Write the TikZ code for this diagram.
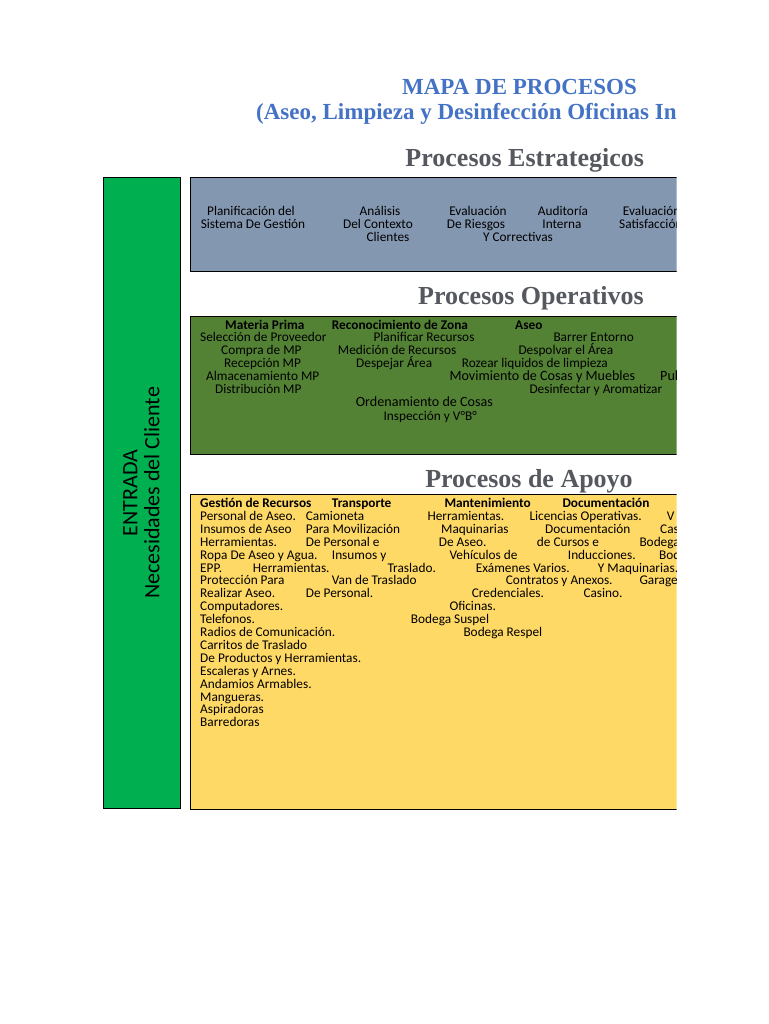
\documentclass[tikz,border=0pt]{standalone}
\usepackage{fontspec}
\setmainfont{Carlito}
\newfontfamily\headfont{Liberation Serif}
\usetikzlibrary{positioning}
\definecolor{titleblue}{RGB}{68,114,196}
\definecolor{headgray}{RGB}{85,88,94}
\definecolor{stratblue}{RGB}{132,151,176}
\definecolor{opgreen}{RGB}{84,130,53}
\definecolor{supyellow}{RGB}{255,217,102}
\definecolor{entrygreen}{RGB}{0,176,80}

\begin{document}
\begin{tikzpicture}[
        x=1pt, y=-1pt,
        font=\fontsize{13.3}{12.9}\selectfont,
        title/.style={font=\headfont\bfseries\fontsize{23}{23}\selectfont, text=titleblue, inner sep=0pt},
        heading/.style={font=\headfont\bfseries\fontsize{26}{26}\selectfont, text=headgray, inner sep=0pt, anchor=base},
        panel/.style={draw=black, line width=1.4pt, anchor=north west, inner sep=0pt},
        stratbox/.style={panel, fill=stratblue},
        opbox/.style={panel, fill=opgreen},
        supbox/.style={panel, fill=supyellow},
        entrybox/.style={draw=black, line width=0.8pt, fill=entrygreen, anchor=north west, inner sep=0pt},
        item/.style={inner sep=0pt, anchor=base},
        itemw/.style={inner sep=0pt, anchor=base west},
        itemb/.style={itemw, font=\bfseries\fontsize{13.3}{12.9}\selectfont},
        itembig/.style={itemw, font=\fontsize{14.1}{14}\selectfont},
      ]
        \useasboundingbox (0,0) rectangle (768,1024);

        \node[entrybox, minimum width=77pt, minimum height=631pt] (entrada) at (102.5,177) {};
        \node[rotate=90, align=center, inner sep=0pt, font=\fontsize{22}{22}\selectfont] (need) at (entrada.center) {ENTRADA\\Necesidades del Cliente};

        \begin{scope}
        \clip (0,0) rectangle (676.6,1024);
        \node[title, anchor=base] (map) at (519.5,95) {MAPA DE PROCESOS};
        \node[title, anchor=base west] (sub) at (256,119.3) {(Aseo, Limpieza y Desinfección Oficinas In};

        \node[heading] (hstrat) at (524.7,166.7) {Procesos Estrategicos};
        \node[stratbox, minimum width=487pt, minimum height=94pt] (strat) at (190,177) {};

        \node[item] (plan1) at (251,215.5) {Planificación del};
        \node[item] (plan2) at (253,228.4) {Sistema De Gestión};
        \node[item] (anal1) at (380,215.5) {Análisis};
        \node[item] (anal2) at (378,228.4) {Del Contexto};
        \node[item] (anal3) at (388,241.3) {Clientes};
        \node[item] (eval1) at (478,215.5) {Evaluación};
        \node[item] (eval2) at (476,228.4) {De Riesgos};
        \node[item] (eval3) at (518,241.3) {Y Correctivas};
        \node[item] (aud1) at (563,215.5) {Auditoría};
        \node[item] (aud2) at (562,228.4) {Interna};
        \node[itemw] (sat1) at (622.7,215.5) {Evaluación};
        \node[itemw] (sat2) at (619,228.4) {Satisfacción};

        \node[heading] (hop) at (531,304.5) {Procesos Operativos};
        \node[opbox, minimum width=487pt, minimum height=138pt] (oper) at (190,315.5) {};

        \node[itemb] (mp) at (225,329) {Materia Prima};
        \node[itemb] (zona) at (331.7,329) {Reconocimiento de Zona};
        \node[itemb] (aseo) at (515,329) {Aseo};
        \node[itemw] (mp1) at (200,341.8) {Selección de Proveedor};
        \node[itemw] (zona1) at (373.3,341.8) {Planificar Recursos};
        \node[itemw] (aseo1) at (553.3,341.8) {Barrer Entorno};
        \node[itemw] (mp2) at (221,354.6) {Compra de MP};
        \node[itemw] (zona2) at (337.7,354.6) {Medición de Recursos};
        \node[itemw] (aseo2) at (518.3,354.6) {Despolvar el Área};
        \node[itemw] (mp3) at (224,367.4) {Recepción MP};
        \node[itemw] (zona3) at (356,367.4) {Despejar Área};
        \node[itemw] (aseo3) at (461.7,367.4) {Rozear liquidos de limpieza};
        \node[itemw] (mp4) at (206,380.2) {Almacenamiento MP};
        \node[itembig] (aseo4) at (449.3,380.2) {Movimiento de Cosas y Muebles};
        \node[itembig] (aseo5) at (660,380.2) {Pul};
        \node[itemw] (mp5) at (215,393) {Distribución MP};
        \node[itemw] (aseo6) at (529.3,393) {Desinfectar y Aromatizar};
        \node[itembig] (orden) at (355.7,406) {Ordenamiento de Cosas};
        \node[itemw] (insp) at (383.3,420) {Inspección y V°B°};

        \node[heading] (hsup) at (529,487) {Procesos de Apoyo};
        \node[supbox, minimum width=487pt, minimum height=315pt] (apoyo) at (190,493.5) {};

        \node[itemb] (gest) at (200,507.5) {Gestión de Recursos};
        \node[itemb] (transp) at (331.7,507.5) {Transporte};
        \node[itemb] (mant) at (444.3,507.5) {Mantenimiento};
        \node[itemb] (docu) at (562.3,507.5) {Documentación};

        \node[itemw] (gest1) at (200,520.4) {Personal de Aseo.};
        \node[itemw] (transp1) at (305.7,520.4) {Camioneta};
        \node[itemw] (mant1) at (427.3,520.4) {Herramientas.};
        \node[itemw] (docu1) at (529.3,520.4) {Licencias Operativas.};
        \node[itemw] (more1) at (666.7,520.4) {V};

        \node[itemw] (gest2) at (200,533.3) {Insumos de Aseo};
        \node[itemw] (transp2) at (305.7,533.3) {Para Movilización};
        \node[itemw] (mant2) at (441,533.3) {Maquinarias};
        \node[itemw] (docu2) at (545,533.3) {Documentación};
        \node[itemw] (more2) at (660,533.3) {Cas};

        \node[itemw] (gest3) at (200,546.2) {Herramientas.};
        \node[itemw] (transp3) at (305.7,546.2) {De Personal e};
        \node[itemw] (mant3) at (438.7,546.2) {De Aseo.};
        \node[itemw] (docu3) at (536.7,546.2) {de Cursos e};
        \node[itemw] (more3) at (639.3,546.2) {Bodega};

        \node[itemw] (gest4) at (200,559.1) {Ropa De Aseo y Agua.};
        \node[itemw] (transp4) at (331.7,559.1) {Insumos y};
        \node[itemw] (mant4) at (449.3,559.1) {Vehículos de};
        \node[itemw] (docu4) at (567.7,559.1) {Inducciones.};
        \node[itemw] (more4) at (659,559.1) {Bod};

        \node[itemw] (gest5) at (200,572) {EPP.};
        \node[itemw] (gest5b) at (252.7,572) {Herramientas.};
        \node[itemw] (transp5) at (387.3,572) {Traslado.};
        \node[itemw] (docu5) at (475.7,572) {Exámenes Varios.};
        \node[itemw] (more5) at (597.7,572) {Y Maquinarias.};

        \node[itemw] (gest6) at (200,584.9) {Protección Para};
        \node[itemw] (transp6) at (331.7,584.9) {Van de Traslado};
        \node[itemw] (docu6) at (505.7,584.9) {Contratos y Anexos.};
        \node[itemw] (more6) at (639.3,584.9) {Garage};

        \node[itemw] (gest7) at (200,597.8) {Realizar Aseo.};
        \node[itemw] (transp7) at (305.7,597.8) {De Personal.};
        \node[itemw] (docu7) at (471.7,597.8) {Credenciales.};
        \node[itemw] (more7) at (583.3,597.8) {Casino.};

        \node[itemw] (gest8) at (200,610.7) {Computadores.};
        \node[itemw] (more8) at (449.3,610.7) {Oficinas.};
        \node[itemw] (gest9) at (200,623.6) {Telefonos.};
        \node[itemw] (more9) at (410.7,623.6) {Bodega Suspel};
        \node[itemw] (gest10) at (200,636.5) {Radios de Comunicación.};
        \node[itemw] (more10) at (463.3,636.5) {Bodega Respel};
        \node[itemw] (gest11) at (200,649.4) {Carritos de Traslado};
        \node[itemw] (gest12) at (200,662.3) {De Productos y Herramientas.};
        \node[itemw] (gest13) at (200,675.2) {Escaleras y Arnes.};
        \node[itemw] (gest14) at (200,688.1) {Andamios Armables.};
        \node[itemw] (gest15) at (200,701) {Mangueras.};
        \node[itemw] (gest16) at (200,713.9) {Aspiradoras};
        \node[itemw] (gest17) at (200,726.8) {Barredoras};
        \end{scope}
      \end{tikzpicture}
\end{document}
